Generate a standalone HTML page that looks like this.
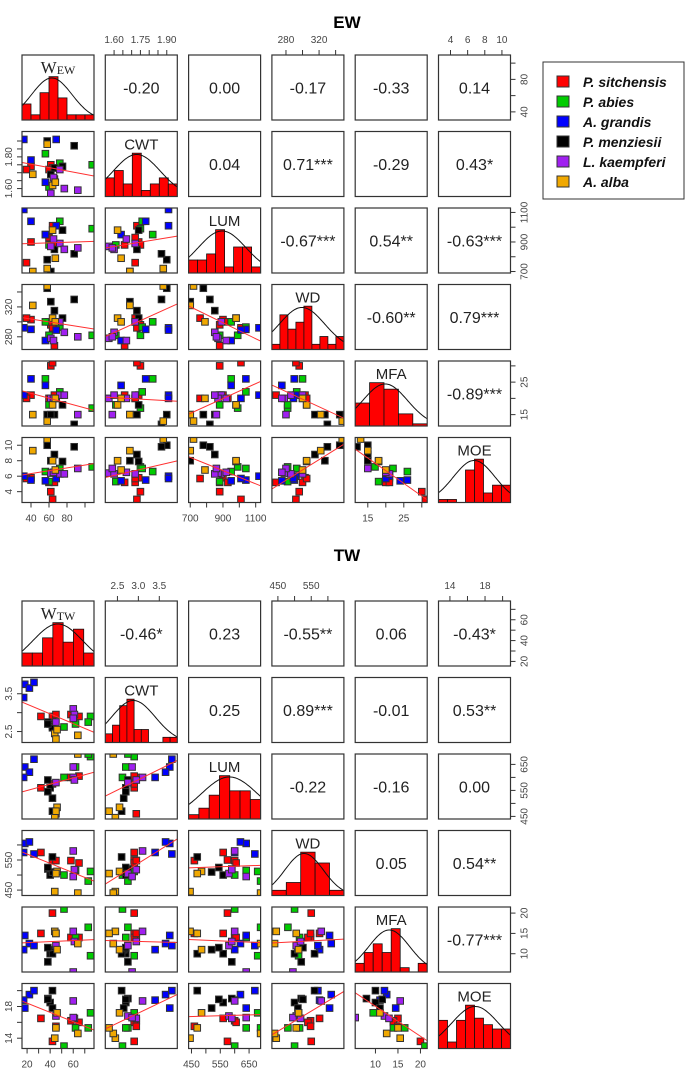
<!DOCTYPE html>
<html><head><meta charset="utf-8"><style>
html,body{margin:0;padding:0;background:#fff;}
svg{display:block;font-family:"Liberation Sans",Arial,sans-serif;}
</style></head><body>
<svg id="chart" width="685" height="1070" viewBox="0 0 685 1070" xmlns="http://www.w3.org/2000/svg">
<text x="347" y="28" text-anchor="middle" font-size="17" font-weight="bold">EW</text>
<text x="347" y="561" text-anchor="middle" font-size="17" font-weight="bold">TW</text>
<g>
<rect x="543" y="62" width="141" height="137" fill="#fff" stroke="#333" stroke-width="1"/>
<g font-size="14" font-style="italic" font-weight="bold" fill="#111">
<rect x="557" y="76" width="12" height="11" fill="#ff0000" stroke="#333"/><text x="583" y="87">P. sitchensis</text>
<rect x="557" y="96" width="12" height="11" fill="#00cc00" stroke="#333"/><text x="583" y="107">P. abies</text>
<rect x="557" y="116" width="12" height="11" fill="#0000ff" stroke="#333"/><text x="583" y="127">A. grandis</text>
<rect x="557" y="136" width="12" height="11" fill="#000000" stroke="#333"/><text x="583" y="147">P. menziesii</text>
<rect x="557" y="156" width="12" height="11" fill="#a020f0" stroke="#333"/><text x="583" y="167">L. kaempferi</text>
<rect x="557" y="176" width="12" height="11" fill="#f0a800" stroke="#333"/><text x="583" y="187">A. alba</text>
</g></g>
</svg>
<script>
const speciesColors = ['#ff0000','#00cc00','#0000ff','#000000','#a020f0','#f0a800'];
// ---- EW data ----
const ewSpecies = [0,0,0,0,0,0,1,1,1,1,2,2,2,2,3,3,3,3,3,4,4,4,4,4,5,5,5,5];
const ewW   = [40,62,64,60,35,66,108,56,60,72,32,40,56,68,58,88,66,75,62,72,62,77,92,65,42,58,64,67];
const ewCWT = [1.74,1.75,1.73,1.72,1.72,1.66,1.75,1.82,1.61,1.76,1.91,1.78,1.64,1.91,1.90,1.87,1.73,1.74,1.69,1.72,1.57,1.60,1.59,1.67,1.69,1.88,1.62,1.64];
const ewLUM = [900,880,1010,930,760,880,990,950,880,1040,1120,1040,950,1010,780,820,850,980,700,890,870,850,860,920,700,720,980,790];
const ewWD  = [303,296,292,300,305,268,282,300,282,293,292,290,275,289,345,330,315,305,327,300,278,286,280,275,322,348,305,300];
const ewMFA = [21,30,31,20,20,21,17,26,18,22,21,26,24,20,15,12,15,18,15,21,20,21,15,20,15,13,18,20];
const ewMOE = [5.8,4.0,3.0,5.2,5.7,5.2,7.2,6.6,5.3,7.0,6.0,5.5,5.4,5.7,10.0,9.8,8.8,7.9,8.0,6.3,6.4,6.3,7.0,6.5,9.3,10.8,8.0,6.8];
const ewDomains = [[30,110],[1.55,1.96],[690,1130],[263,350],[11.5,31.5],[2.6,11]];
const ewCorr = [['-0.20','0.00','-0.17','-0.33','0.14'],['0.04','0.71***','-0.29','0.43*'],['-0.67***','0.54**','-0.63***'],['-0.60**','0.79***'],['-0.89***']];
const ewHist = [[.37,.12,.63,1,.51,.12,.12,.12],[.43,.6,.29,1,.14,.29,.43,.29],[.3,.3,.44,1,.14,.6,.6,.14],[.12,.8,.47,.63,1,.12,.3,.12,.3],[.53,1,.85,.28,.05],[.07,.07,0,.75,1,.22,.4,.4]];
// ---- TW data ----
const twSpecies = [0,0,0,0,0,1,1,1,1,2,2,2,2,3,3,3,3,3,4,4,4,4,5,5,5,5];
const twW   = [32,42,58,65,45,75,73,52,62,18,22,17,26,38,40,42,42,38,45,60,61,60,44,46,64,45];
const twCWT = [2.90,2.90,2.95,2.90,2.95,2.90,2.75,2.62,2.70,3.75,3.65,3.40,3.80,2.75,2.70,2.65,2.60,2.70,2.75,3.10,2.95,2.85,2.45,2.55,2.40,2.30];
const twLUM = [560,575,600,605,460,680,690,600,640,640,620,600,670,590,560,520,470,545,580,600,590,640,445,485,690,470];
const twWD  = [575,550,548,540,548,512,480,500,515,605,610,575,570,520,500,510,560,525,505,580,518,495,445,512,440,505];
const twMFA = [15,20,14,14,15,9.5,16.5,21,14,14.5,12.5,11,12,8,10,11,10,11.5,12,15.5,13,5.5,15.5,11,12.5,15];
const twMOE = [16.5,13.6,16.2,16.0,15.5,17.2,15.3,13.0,15.3,17.8,19.5,18.8,20.0,19.0,18.5,17.8,20.0,18.9,16.8,18.7,16.5,16.6,14.0,17.2,14.6,15.3];
const twDomains = [[15.6,78],[2.21,3.93],[440,690],[432,648],[5.5,21.5],[12.7,20.9]];
const twCorr = [['-0.46*','0.23','-0.55**','0.06','-0.43*'],['0.25','0.89***','-0.01','0.53**'],['-0.22','-0.16','0.00'],['0.05','0.54**'],['-0.77***']];
const twHist = [[.3,.3,.65,1,.55,.85,.3],[.2,.4,.85,1,.3,.3,0,0,.12,.12],[.1,.25,.55,1,.65,.65,.45],[.12,.3,1,.75,.12],[.2,.45,.65,.45,1,.1,0,.2],[.65,.15,.65,1,.7,.55,.45,.45]];

const ewAxes = {
  top:{1:{t:[1.60,1.65,1.70,1.75,1.80,1.85,1.90],l:[1.60,1.75,1.90],f:2},3:{t:[280,300,320,340],l:[280,320],f:0},5:{t:[4,6,8,10],l:[4,6,8,10],f:0}},
  right:{0:{t:[40,60,80,100],l:[40,80],f:0},2:{t:[700,800,900,1000,1100],l:[700,900,1100],f:0},4:{t:[15,20,25,30],l:[15,25],f:0}},
  left:{1:{t:[1.60,1.65,1.70,1.75,1.80,1.85,1.90],l:[1.60,1.80],f:2},3:{t:[280,300,320,340],l:[280,320],f:0},5:{t:[4,6,8,10],l:[4,6,8,10],f:0}},
  bottom:{0:{t:[40,60,80,100],l:[40,60,80],f:0},2:{t:[700,800,900,1000,1100],l:[700,900,1100],f:0},4:{t:[15,20,25,30],l:[15,25],f:0}}
};
const twAxes = {
  top:{1:{t:[2.5,3.0,3.5],l:[2.5,3.0,3.5],f:1},3:{t:[450,500,550,600],l:[450,550],f:0},5:{t:[14,16,18,20],l:[14,18],f:0}},
  right:{0:{t:[20,30,40,50,60,70],l:[20,40,60],f:0},2:{t:[450,500,550,600,650],l:[450,550,650],f:0},4:{t:[10,15,20],l:[10,15,20],f:0}},
  left:{1:{t:[2.5,3.0,3.5],l:[2.5,3.5],f:1},3:{t:[450,500,550,600],l:[450,550],f:0},5:{t:[14,16,18,20],l:[14,18],f:0}},
  bottom:{0:{t:[20,30,40,50,60,70],l:[20,40,60],f:0},2:{t:[450,500,550,600,650],l:[450,550,650],f:0},4:{t:[10,15,20],l:[10,15,20],f:0}}
};

const NS='http://www.w3.org/2000/svg';
const svg=document.getElementById('chart');
const PW=72, PH=65;
function colX(c){return 22+c*83.3;}
function mk(tag,attrs,parent){const e=document.createElementNS(NS,tag);for(const k in attrs)e.setAttribute(k,attrs[k]);(parent||svg).appendChild(e);return e;}
function sc(v,d,a,b){return a+(v-d[0])/(d[1]-d[0])*(b-a);}
function mean(a){return a.reduce((s,v)=>s+v,0)/a.length;}
function sd(a){const m=mean(a);return Math.sqrt(a.reduce((s,v)=>s+(v-m)*(v-m),0)/(a.length-1));}

function drawMatrix(prefix,top,vars,names,subs,domains,species,corr,hist,axes){
  const n=6;
  const defs=mk('defs',{});
  for(let r=0;r<n;r++)for(let c=0;c<n;c++){
    const x0=colX(c), y0=top+r*76.5;
    const g=mk('g',{});
    
    
    const cp=mk('clipPath',{id:prefix+'clip'+r+c},defs);
    mk('rect',{x:x0,y:y0,width:PW,height:PH},cp);
    const inner=mk('g',{'clip-path':'url(#'+prefix+'clip'+r+c+')'},g);
    if(r===c){
      const h=hist[r], bw=PW/h.length;
      for(let i=0;i<h.length;i++){
        if(h[i]<=0)continue;
        const bh=h[i]*PH/1.5;
        const b=mk('rect',{x:x0+i*bw,y:y0+PH-bh,width:bw,height:bh,fill:'#ff0000',stroke:'#111','stroke-width':0.8},inner);
        
        
      }
      const d=domains[r], m=mean(vars[r]), s=sd(vars[r])*1.35;
      let pts=[];
      for(let k=0;k<=60;k++){const v=d[0]+(d[1]-d[0])*k/60;const z=(v-m)/s;const yy=Math.exp(-z*z/2)*0.97;pts.push((x0+k/60*PW).toFixed(1)+','+(y0+PH-yy*PH/1.5).toFixed(1));}
      const cv=mk('polyline',{points:pts.join(' '),fill:'none',stroke:'#111','stroke-width':1},inner);
      
      
      const t=mk('text',{x:x0+PW/2,y:y0+18,'text-anchor':'middle','font-size':subs[r]?17:15,fill:'#222'},g);
      if(subs[r]){t.setAttribute('font-family','"Liberation Serif",serif');t.textContent=names[r];const ts=mk('tspan',{'font-size':12,dy:1},t);ts.textContent=subs[r];}
      else t.textContent=names[r];
      
      
    } else if(c>r){
      const t=mk('text',{x:x0+PW/2,y:y0+PH/2+6,'text-anchor':'middle','font-size':16,fill:'#222'},g);
      t.textContent=corr[r][c-r-1];
      
      
    } else {
      const xs=vars[c], ys=vars[r], dx=domains[c], dy=domains[r];
      const mx=mean(xs), my=mean(ys);
      let sxy=0,sxx=0;for(let i=0;i<xs.length;i++){sxy+=(xs[i]-mx)*(ys[i]-my);sxx+=(xs[i]-mx)*(xs[i]-mx);}
      const b=sxy/sxx, a=my-b*mx;
      for(let i=0;i<xs.length;i++){
        const px=sc(xs[i],dx,x0,x0+PW), py=sc(ys[i],dy,y0+PH,y0);
        const p=mk('rect',{x:px-3.3,y:py-3.3,width:6.6,height:6.6,fill:speciesColors[species[i]],stroke:'#333','stroke-width':1},inner);
        
        
      }
      const ln=mk('line',{x1:x0,y1:sc(a+b*dx[0],dy,y0+PH,y0),x2:x0+PW,y2:sc(a+b*dx[1],dy,y0+PH,y0),stroke:'#ff3030','stroke-width':1},inner);
      
      
    }
    const fr=mk('rect',{x:x0,y:y0,width:PW,height:PH,fill:'none',stroke:'#333','stroke-width':1.2},g);
    
    
  }
  for(const side of ['top','bottom','left','right']){
    for(const key in axes[side]){
      const k=+key, ax=axes[side][key];
      const g=mk('g',{stroke:'#333','stroke-width':1});
      
      
      const d=domains[k];
      if(side==='top'||side==='bottom'){
        const x0=colX(k), yb=side==='top'?top:top+5*76.5+PH, dir=side==='top'?-1:1;
        const xs=ax.t.map(v=>sc(v,d,x0,x0+PW));
        mk('line',{x1:xs[0],x2:xs[xs.length-1],y1:yb,y2:yb},g);
        xs.forEach(x=>mk('line',{x1:x,x2:x,y1:yb,y2:yb+dir*5},g));
        ax.l.forEach(v=>{const t=mk('text',{x:sc(v,d,x0,x0+PW),y:side==='top'?yb-12:yb+19,'text-anchor':'middle','font-size':10,fill:'#444',stroke:'none'},g);t.textContent=v.toFixed(ax.f);});
      } else {
        const y0=top+k*76.5, xb=side==='left'?colX(0):colX(5)+PW, dir=side==='left'?-1:1;
        const ys=ax.t.map(v=>sc(v,d,y0+PH,y0));
        mk('line',{y1:ys[0],y2:ys[ys.length-1],x1:xb,x2:xb},g);
        ys.forEach(y=>mk('line',{y1:y,y2:y,x1:xb,x2:xb+dir*5},g));
        ax.l.forEach(v=>{const yy=sc(v,d,y0+PH,y0);const tx=side==='left'?xb-10:xb+17;const t=mk('text',{x:tx,y:yy,'text-anchor':'middle','font-size':10,fill:'#444',stroke:'none',transform:'rotate(-90 '+tx+' '+yy+')'},g);t.textContent=v.toFixed(ax.f);});
      }
    }
  }
}
drawMatrix('ew',55,[ewW,ewCWT,ewLUM,ewWD,ewMFA,ewMOE],['W','CWT','LUM','WD','MFA','MOE'],['EW','','','','',''],ewDomains,ewSpecies,ewCorr,ewHist,ewAxes);
drawMatrix('tw',601,[twW,twCWT,twLUM,twWD,twMFA,twMOE],['W','CWT','LUM','WD','MFA','MOE'],['TW','','','','',''],twDomains,twSpecies,twCorr,twHist,twAxes);
</script>
</body></html>
